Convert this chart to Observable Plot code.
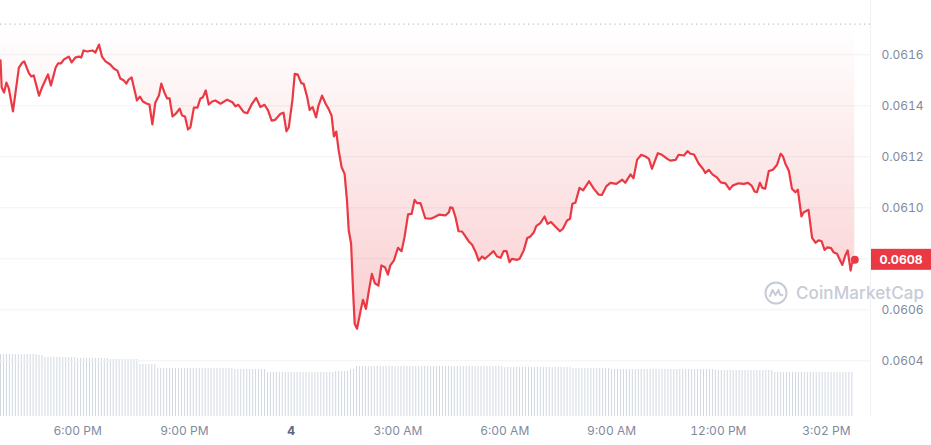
<!DOCTYPE html>
<html><head><meta charset="utf-8">
<script src="https://cdn.jsdelivr.net/npm/d3@7"></script>
<script src="https://cdn.jsdelivr.net/npm/@observablehq/plot@0.6"></script>
<style>
html,body{margin:0;padding:0;background:#fff;}
#wrap{position:relative;width:931px;height:445px;overflow:hidden;font-family:Inter, "Noto Sans", sans-serif;}
#wrap svg{position:absolute;left:0;top:0;}
#wm{position:absolute;left:764px;top:281px;height:24px;display:flex;align-items:center;gap:8px;color:#c6ccd6;font-size:17px;font-weight:500;font-family:Inter, sans-serif;letter-spacing:0.1px;line-height:15px;}
</style></head><body><div id="wrap"></div>
<script>
// ---- data ----
const startTime = "2024-01-03T15:50:00Z";   // left edge of the 24h window
const endTime   = "2024-01-04T15:50:00Z";
// minutes after startTime for each price sample
const minutes = [0,2,6,10,14,21,31,37,40,48,52,56,65,70,80,85,93,97,102,107,115,120,126,132,136,140,146,155,160,166,171,177,185,191,197,202,208,212,216,221,230,235,240,246,251,256,261,267,271,277,281,285,290,296,302,306,311,316,320,326,332,337,341,346,351,357,362,371,382,391,396,401,410,416,424,431,438,445,451,457,463,472,477,482,486,492,496,501,507,511,517,521,526,532,536,542,548,553,558,562,566,570,575,580,584,587,591,594,597,601,607,611,616,621,626,631,637,642,648,653,657,663,670,676,681,687,693,698,702,708,716,725,731,739,750,756,758,762,767,772,778,784,789,795,801,806,812,816,823,831,837,843,848,853,858,862,871,875,882,888,893,899,903,910,917,922,928,935,943,948,955,960,964,969,976,982,992,1000,1008,1014,1021,1028,1038,1048,1053,1062,1067,1073,1080,1087,1093,1098,1108,1115,1124,1129,1138,1143,1152,1158,1163,1169,1177,1184,1188,1194,1200,1208,1214,1222,1229,1234,1244,1253,1260,1266,1271,1275,1280,1284,1289,1295,1302,1309,1315,1319,1323,1329,1334,1340,1344,1350,1354,1362,1368,1374,1379,1384,1389,1394,1400,1404,1410,1419,1424,1428,1433,1435,1440];
const prices = [
0.061578,0.061472,0.061452,0.061491,0.061468,0.061378,0.061550,0.061570,0.061574,0.061527,
0.061515,0.061519,0.061440,0.061472,0.061523,0.061480,0.061550,0.061566,0.061566,0.061582,
0.061593,0.061570,0.061589,0.061593,0.061589,0.061617,0.061613,0.061617,0.061609,0.061640,
0.061593,0.061574,0.061562,0.061546,0.061538,0.061507,0.061499,0.061487,0.061503,0.061511,
0.061421,0.061436,0.061417,0.061409,0.061405,0.061327,0.061413,0.061440,0.061487,0.061448,
0.061429,0.061429,0.061358,0.061370,0.061389,0.061362,0.061358,0.061307,0.061315,0.061393,
0.061393,0.061429,0.061433,0.061460,0.061405,0.061417,0.061421,0.061408,0.061424,0.061414,
0.061398,0.061404,0.061375,0.061371,0.061408,0.061431,0.061395,0.061404,0.061382,0.061342,
0.061345,0.061369,0.061373,0.061300,0.061316,0.061421,0.061525,0.061522,0.061489,0.061486,
0.061434,0.061384,0.061395,0.061355,0.061401,0.061440,0.061408,0.061388,0.061362,0.061280,
0.061299,0.061225,0.061159,0.061133,0.061029,0.060911,0.060859,0.060689,0.060545,0.060526,
0.060597,0.060639,0.060604,0.060676,0.060741,0.060704,0.060695,0.060774,0.060767,0.060738,
0.060774,0.060793,0.060843,0.060830,0.060885,0.060974,0.060976,0.061031,0.061018,0.061018,
0.060959,0.060957,0.060963,0.060973,0.060970,0.060983,0.061002,0.061000,0.060963,0.060908,
0.060907,0.060887,0.060869,0.060855,0.060826,0.060793,0.060809,0.060800,0.060813,0.060830,
0.060809,0.060804,0.060830,0.060830,0.060787,0.060800,0.060796,0.060800,0.060833,0.060882,
0.060887,0.060904,0.060928,0.060940,0.060966,0.060937,0.060944,0.060927,0.060908,0.060918,
0.060950,0.060957,0.061016,0.061020,0.061078,0.061068,0.061104,0.061075,0.061052,0.061051,
0.061084,0.061098,0.061094,0.061110,0.061098,0.061131,0.061116,0.061188,0.061208,0.061201,
0.061192,0.061153,0.061214,0.061208,0.061192,0.061185,0.061188,0.061208,0.061205,0.061222,
0.061212,0.061209,0.061173,0.061153,0.061137,0.061149,0.061131,0.061118,0.061100,0.061096,
0.061072,0.061087,0.061096,0.061094,0.061098,0.061087,0.061064,0.061061,0.061098,0.061078,
0.061075,0.061144,0.061149,0.061169,0.061212,0.061201,0.061173,0.061144,0.061075,0.061061,
0.061071,0.060966,0.060983,0.060992,0.060882,0.060863,0.060872,0.060869,0.060835,0.060845,
0.060842,0.060826,0.060820,0.060776,0.060813,0.060833,0.060754,0.060780,0.060796];
// volume (millions), one bar per 5 minutes
const volumes = [
6.2,6.2,6.2,6.2,6.2,6.2,6.2,6.2,6.2,6.2,6.2,6.2,6.2,6.1,6.1,5.9,5.9,5.9,5.9,5.9,5.9,5.9,5.9,5.9,
5.9,5.9,5.8,5.8,5.8,5.8,5.8,5.8,5.8,5.8,5.8,5.8,5.8,5.7,5.7,5.7,5.7,5.7,5.7,5.7,5.7,5.7,5.7,5.2,
5.2,5.2,5.2,5.2,5.2,4.8,4.8,4.8,4.8,4.8,4.8,4.8,4.8,4.8,4.8,4.8,4.8,4.8,4.8,4.8,4.8,4.8,4.8,4.8,
4.8,4.8,4.8,4.8,4.8,4.8,4.8,4.7,4.7,4.7,4.7,4.7,4.7,4.7,4.7,4.7,4.7,4.7,4.4,4.4,4.4,4.4,4.4,4.4,
4.4,4.4,4.4,4.4,4.4,4.4,4.4,4.4,4.4,4.4,4.4,4.4,4.4,4.4,4.4,4.4,4.4,4.5,4.5,4.5,4.5,4.5,4.7,4.7,
5.0,5.0,5.0,5.0,5.0,5.0,5.0,5.0,5.0,5.0,5.0,5.0,5.0,5.0,5.0,5.0,5.0,5.0,5.0,5.0,5.0,5.0,5.0,5.0,
5.0,5.0,5.0,5.0,5.0,5.0,5.0,5.0,5.0,5.0,5.0,5.0,5.0,5.0,5.0,5.0,5.0,5.0,5.0,5.0,5.0,5.0,5.0,5.0,
5.0,5.0,4.9,4.9,4.9,4.9,4.9,4.9,4.9,4.9,4.9,4.9,4.9,4.9,4.9,4.9,4.9,4.9,4.9,4.9,4.9,4.9,4.9,4.9,
4.9,4.8,4.8,4.8,4.8,4.8,4.8,4.8,4.8,4.8,4.8,4.8,4.8,4.8,4.7,4.7,4.7,4.7,4.7,4.7,4.7,4.7,4.7,4.7,
4.7,4.7,4.7,4.7,4.7,4.7,4.7,4.7,4.7,4.7,4.7,4.7,4.7,4.7,4.7,4.7,4.7,4.7,4.7,4.7,4.7,4.7,4.7,4.7,
4.7,4.6,4.6,4.6,4.6,4.6,4.6,4.6,4.6,4.6,4.6,4.6,4.6,4.6,4.6,4.6,4.6,4.6,4.6,4.6,4.6,4.4,4.4,4.4,
4.4,4.4,4.4,4.4,4.4,4.4,4.4,4.4,4.4,4.4,4.4,4.4,4.4,4.4,4.4,4.4,4.4,4.4,4.4,4.4,4.4,4.4,4.4,4.4];
const refPrice = 0.06172;   // dotted reference line
const yTicks = [0.0604, 0.0606, 0.0608, 0.0610, 0.0612, 0.0614, 0.0616];
const xTickTimes = ["2024-01-03T18:00:00Z","2024-01-03T21:00:00Z","2024-01-04T00:00:00Z","2024-01-04T03:00:00Z","2024-01-04T06:00:00Z","2024-01-04T09:00:00Z","2024-01-04T12:00:00Z","2024-01-04T15:02:00Z"];
const xTickLabels = ["6:00 PM","9:00 PM","4","3:00 AM","6:00 AM","9:00 AM","12:00 PM","3:02 PM"];

// ---- build tables ----
const t0 = new Date(startTime), t1 = new Date(endTime);
const n = Math.min(minutes.length, prices.length);
const series = [];
for (let i = 0; i < n; i++) series.push({time: new Date(+t0 + minutes[i]*60000), price: prices[i]});
const vol = volumes.map((v, i) => ({time: new Date(+t0 + i*5*60000), v}));
const last = series[series.length - 1];
const ticks = xTickTimes.map(s => new Date(s));
const labelOf = new Map(ticks.map((t, i) => [+t, xTickLabels[i]]));
const lastLabel = last.price.toFixed(4);
// the tick label hidden under the current-price badge is not drawn
const yLabelTicks = yTicks.filter(t => t.toFixed(4) !== lastLabel);

const W = 931, H = 445, MR = 61, MB = 29;
const RED = "#ea3943";
const common = {width: W, height: H, marginLeft: 0, marginRight: MR, marginTop: 0, marginBottom: MB,
  style: {background: "transparent", fontFamily: "Inter, sans-serif", fontSize: "12px", color: "#808a9d", overflow: "visible"}};

const volPlot = Plot.plot({...common,
  x: {type: "utc", domain: [t0, t1], range: [0, 854.3], axis: null},
  y: {domain: [0, 6.2], range: [416, 354], axis: null},
  marks: [Plot.ruleX(vol, {x: "time", y1: 0, y2: "v", stroke: "#d2d8e1", strokeWidth: 1})]
});

function gradientDefs() {
  const ns = "http://www.w3.org/2000/svg";
  const defs = document.createElementNS(ns, "defs");
  const g = document.createElementNS(ns, "linearGradient");
  g.setAttribute("id", "redfade");
  g.setAttribute("x1", "0"); g.setAttribute("y1", "0"); g.setAttribute("x2", "0"); g.setAttribute("y2", "1");
  [[0, 0], [1, 0.25]].forEach(([o, a]) => {
    const s = document.createElementNS(ns, "stop");
    s.setAttribute("offset", o); s.setAttribute("stop-color", RED); s.setAttribute("stop-opacity", a);
    g.appendChild(s);
  });
  defs.appendChild(g);
  return defs;
}

const pricePlot = Plot.plot({...common,
  x: {type: "utc", domain: [t0, t1], range: [0, 854.3]},
  y: {domain: [0.0604, 0.0616], range: [360.3, 54.3]},
  marks: [
    gradientDefs,
    Plot.ruleY(yTicks, {stroke: "#eff2f5", strokeWidth: 1}),
    Plot.ruleY([refPrice], {stroke: "#b9c0cb", strokeDasharray: "1.2,3.6", strokeWidth: 1.2}),
    Plot.area(series, {x1: "time", y1: "price", y2: refPrice, fill: "url(#redfade)"}),
    Plot.line(series, {x: "time", y: "price", stroke: RED, strokeWidth: 2.2, strokeLinejoin: "round"}),
    Plot.dot([last], {x: "time", y: "price", r: 4, fill: RED}),
    Plot.frame({anchor: "right", stroke: "#eff2f5"}),
    Plot.axisY({anchor: "right", ticks: yLabelTicks, tickSize: 0, tickPadding: 11, label: null, tickFormat: d => d.toFixed(4)}),
    Plot.axisX({ticks: ticks, tickSize: 0, tickPadding: 10, label: null, tickFormat: d => labelOf.get(+d)})
  ]
});

const wrap = document.getElementById("wrap");
wrap.appendChild(volPlot);
wrap.appendChild(pricePlot);

// bold day label
d3.select(pricePlot).selectAll("text").filter(function(){ return this.textContent === "4"; })
  .attr("font-weight", 700).attr("fill", "#58667e");

// current price badge, positioned by the plot's y scale
const yPx = pricePlot.scale("y").apply(last.price);
const badge = d3.select(pricePlot).append("g");
badge.append("rect").attr("x", W - MR + 1).attr("y", yPx - 10.5).attr("width", MR - 1).attr("height", 21).attr("fill", RED);
badge.append("text").attr("x", W - MR + 1 + (MR - 1) / 2).attr("y", yPx).attr("dy", "0.35em")
  .attr("text-anchor", "middle").attr("fill", "#fff").attr("font-weight", 700).attr("font-size", 12)
  .attr("font-family", "Inter, sans-serif").text(lastLabel);

// watermark
const wm = document.createElement("div");
wm.id = "wm";
wm.innerHTML = '<svg width="24" height="24" viewBox="0 0 24 24" style="position:static"><circle cx="12" cy="12" r="10.5" fill="none" stroke="#c6ccd6" stroke-width="2"/><path d="M6 15 L8.5 9 L11.5 14 L14.5 9 L16 13.5 Q17 15 18.5 14" fill="none" stroke="#c6ccd6" stroke-width="2" stroke-linejoin="round" stroke-linecap="round"/></svg><span>CoinMarketCap</span>';
wrap.appendChild(wm);
</script></body></html>
